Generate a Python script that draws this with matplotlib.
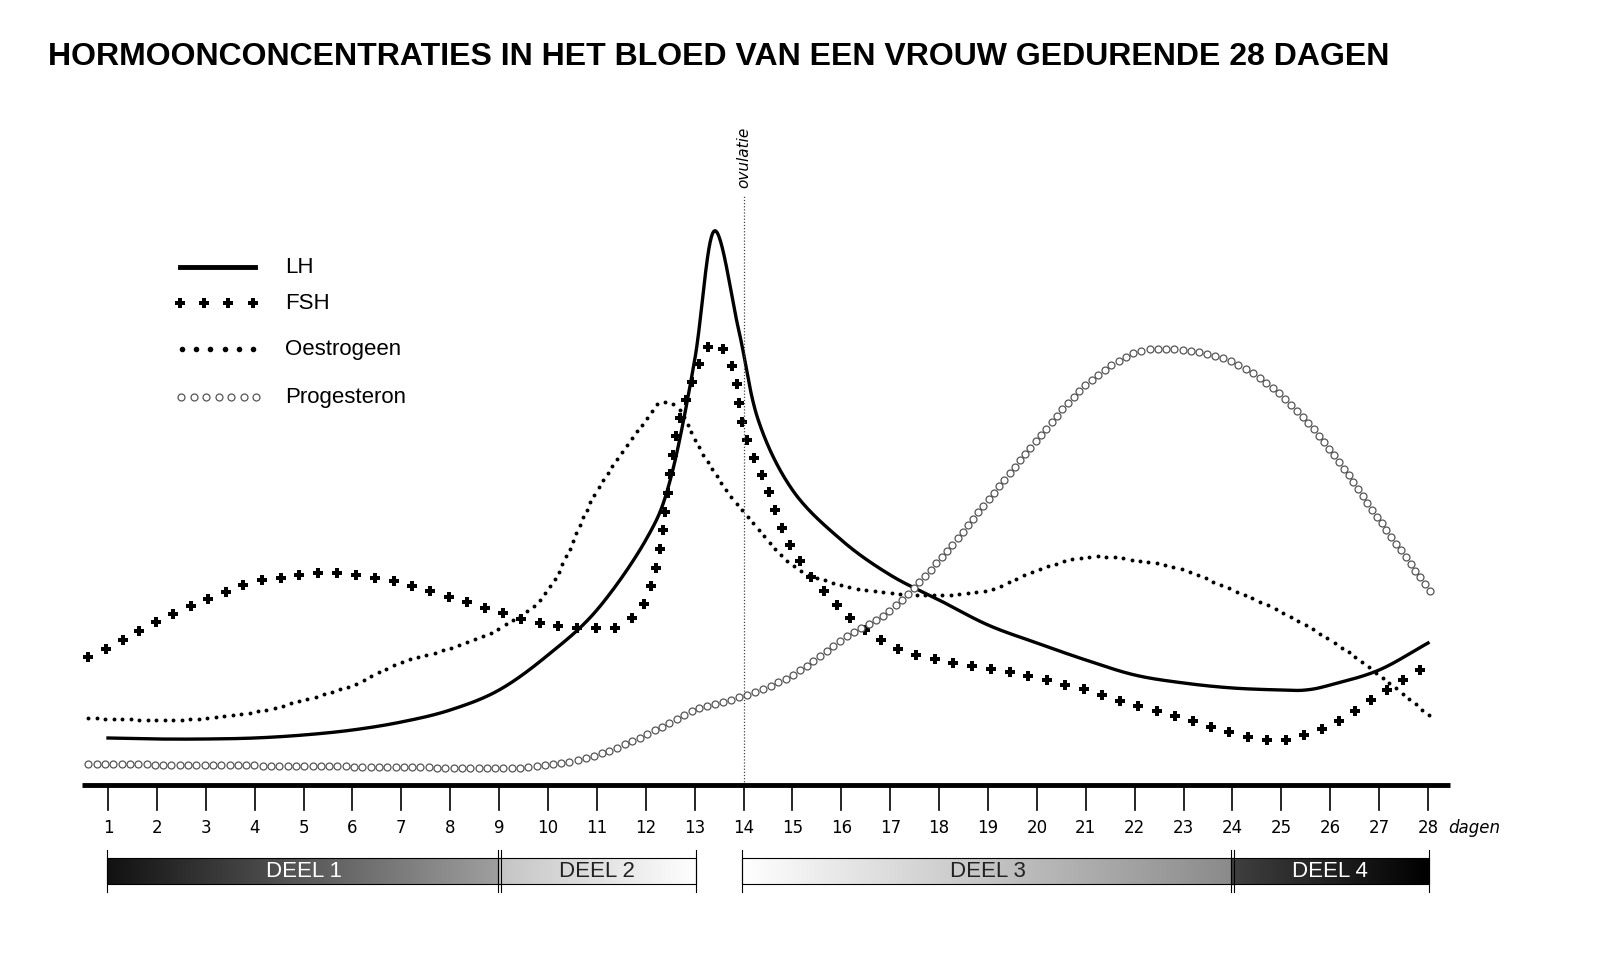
import numpy as np
import matplotlib.pyplot as plt
from matplotlib.colors import LinearSegmentedColormap

# values (height above the baseline, arbitrary units)
lh_days = [1, 2, 3, 4, 5, 6, 7, 8, 9, 10, 11, 12, 12.5, 13, 13.4, 13.9, 14.3, 15, 16, 17, 18, 19, 20,
           21, 22, 23, 24, 25, 25.5, 26, 27, 28]
lh_vals = [47, 46, 46, 47, 50, 55, 63, 75, 95, 130, 175, 245, 305, 425, 554, 455, 365, 295, 245, 210,
           185, 160, 142, 125, 110, 102, 97, 95, 95, 100, 115, 142]

fsh_days = [0.6, 1, 2, 3, 4, 5, 5.5, 6, 7, 8, 9, 10, 11, 11.5, 12, 12.3, 12.6, 13, 13.4, 13.8, 14,
            14.5, 15, 16, 17, 18, 19, 20, 21, 22, 23, 24, 25, 26, 27, 28]
fsh_vals = [128, 137, 163, 185, 203, 210, 212, 211, 202, 188, 173, 160, 157, 160, 185, 240, 345, 410,
            442, 415, 355, 295, 235, 175, 140, 125, 117, 107, 95, 80, 67, 52, 45, 60, 90, 120]

oes_days = [0.6, 2, 3, 4, 5, 6, 7, 8, 9, 10, 11, 12, 12.3, 12.7, 13, 13.5, 14, 15, 16, 17, 18, 19,
            20, 21, 22, 23, 24, 25, 26, 27, 28.1]
oes_vals = [67, 65, 67, 73, 85, 100, 123, 137, 157, 195, 295, 365, 383, 375, 345, 305, 273, 220, 200,
            192, 190, 195, 215, 228, 225, 215, 195, 173, 145, 110, 67]

pro_days = [0.6, 3, 5, 7, 9, 10, 11, 12, 13, 14, 15, 16, 17, 18, 19, 20, 21, 22, 23, 24, 25, 26, 27, 28.1]
pro_vals = [21, 20, 19, 18, 17, 20, 30, 50, 75, 89, 110, 145, 175, 225, 285, 345, 400, 432, 435, 423,
            390, 335, 265, 190]

day_ticks = list(range(1, 29))
legend_labels = ['LH', 'FSH', 'Oestrogeen', 'Progesteron']
parts = [('DEEL 1', 1, 9, ['#111111', '#a0a0a0']),
         ('DEEL 2', 9, 13, ['#c4c4c4', '#ffffff']),
         ('DEEL 3', 14, 24, ['#ffffff', '#8a8a8a']),
         ('DEEL 4', 24, 28, ['#404040', '#000000'])]

PX_PER_DAY = 48.89
X0 = 108  # pixel position of day 1


def catmull(xs, ys, n=30):
    """smooth curve through the read points, in pixel-like units"""
    p = np.column_stack([(np.array(xs) - 1) * PX_PER_DAY, ys]).astype(float)
    p = np.vstack([2 * p[0] - p[1], p, 2 * p[-1] - p[-2]])
    out = []
    t = np.linspace(0, 1, n, endpoint=False)[:, None]
    for i in range(1, len(p) - 2):
        p0, p1, p2, p3 = p[i - 1], p[i], p[i + 1], p[i + 2]
        out.append(0.5 * ((2 * p1) + (-p0 + p2) * t + (2 * p0 - 5 * p1 + 4 * p2 - p3) * t ** 2
                          + (-p0 + 3 * p1 - 3 * p2 + p3) * t ** 3))
    out.append(p[-2][None, :])
    c = np.vstack(out)
    return c[:, 0] / PX_PER_DAY + 1, c[:, 1], c


def resample(xs, ys, step):
    dx, dy, c = catmull(xs, ys)
    seg = np.hypot(np.diff(c[:, 0]), np.diff(c[:, 1]))
    s = np.concatenate([[0], np.cumsum(seg)])
    si = np.arange(0, s[-1], step)
    return np.interp(si, s, dx), np.interp(si, s, dy)


fig = plt.figure(figsize=(16, 9.71), dpi=100)
ax = fig.add_axes([0, 0, 1, 1])
ax.set_xlim(1 - X0 / PX_PER_DAY, 1 + (1600 - X0) / PX_PER_DAY)
ax.set_ylim(-186, 785)
ax.axis('off')


def P(px, py):
    return 1 + (px - X0) / PX_PER_DAY, 785 - py


# curves
x, y, _ = catmull(lh_days, lh_vals)
ax.plot(x, y, color='black', lw=2.4)
x, y = resample(fsh_days, fsh_vals, 19)
ax.plot(x, y, ls='none', marker='P', ms=7.5, color='black', mew=0)
x, y = resample(oes_days, oes_vals, 8.5)
ax.plot(x, y, ls='none', marker='o', ms=2.8, color='black', mew=0)
x, y = resample(pro_days, pro_vals, 8.3)
ax.plot(x, y, ls='none', marker='o', ms=5, mfc='white', mec='#555555', mew=0.9)

# ovulation line
ax.plot([14, 14], [0, 590], color='#444444', lw=0.9, ls=(0, (1, 1.5)))
ax.text(*P(744, 157), 'ovulatie', rotation=90, style='italic', fontsize=11,
        ha='center', va='center')

# axis and ticks
ax.plot([P(82, 0)[0], P(1450, 0)[0]], [0, 0], color='black', lw=3.5, solid_capstyle='butt')
for d in day_ticks:
    ax.plot([d, d], [0, -25], color='black', lw=1.2)
    ax.text(d, -43, str(d), ha='center', va='center', fontsize=12)
ax.text(*P(1474, 828), 'dagen', ha='center', va='center', fontsize=12, style='italic')

# part bars with gradients
for name, a, b, cols in parts:
    cmap = LinearSegmentedColormap.from_list(name, cols)
    grad = np.linspace(0, 1, 256)[None, :]
    ax.imshow(grad, cmap=cmap, aspect='auto', extent=[a - 0.03, b + 0.03, -99, -73], zorder=2)
    ax.add_patch(plt.Rectangle((a - 0.03, -99), b - a + 0.06, 26, fill=False, lw=0.8, zorder=3))
    for e in (a - 0.03, b + 0.03):
        ax.plot([e, e], [-65, -107], color='black', lw=0.8)
    ax.text((a + b) / 2, -86, name, ha='center', va='center', fontsize=16, family='Liberation Sans',
            color='white' if name in ('DEEL 1', 'DEEL 4') else '#222222', zorder=4)

# legend
ly = [267, 303, 349, 397]
lx0, lx1 = P(180, 0)[0], P(255, 0)[0]
ax.plot([lx0, lx1], [785 - ly[0]] * 2, color='black', lw=3.5)
ax.plot(np.linspace(lx0, lx1 - 0.05, 4), [785 - ly[1]] * 4, ls='none', marker='P', ms=7.5,
        color='black', mew=0)
ax.plot(np.linspace(lx0 + 0.05, lx1 - 0.05, 6), [785 - ly[2]] * 6, ls='none', marker='o', ms=4,
        color='black', mew=0)
ax.plot(np.linspace(lx0 + 0.03, lx1 + 0.03, 7), [785 - ly[3]] * 7, ls='none', marker='o', ms=5,
        mfc='white', mec='#555555', mew=0.9)
for lab, yy in zip(legend_labels, ly):
    ax.text(*P(285, yy), lab, ha='left', va='center', fontsize=16, family='Liberation Sans')

ax.text(*P(48, 57), 'HORMOONCONCENTRATIES IN HET BLOED VAN EEN VROUW GEDURENDE 28 DAGEN',
        ha='left', va='center', fontsize=23, family='Liberation Sans', weight='bold')

fig.savefig('out.png', dpi=100)
